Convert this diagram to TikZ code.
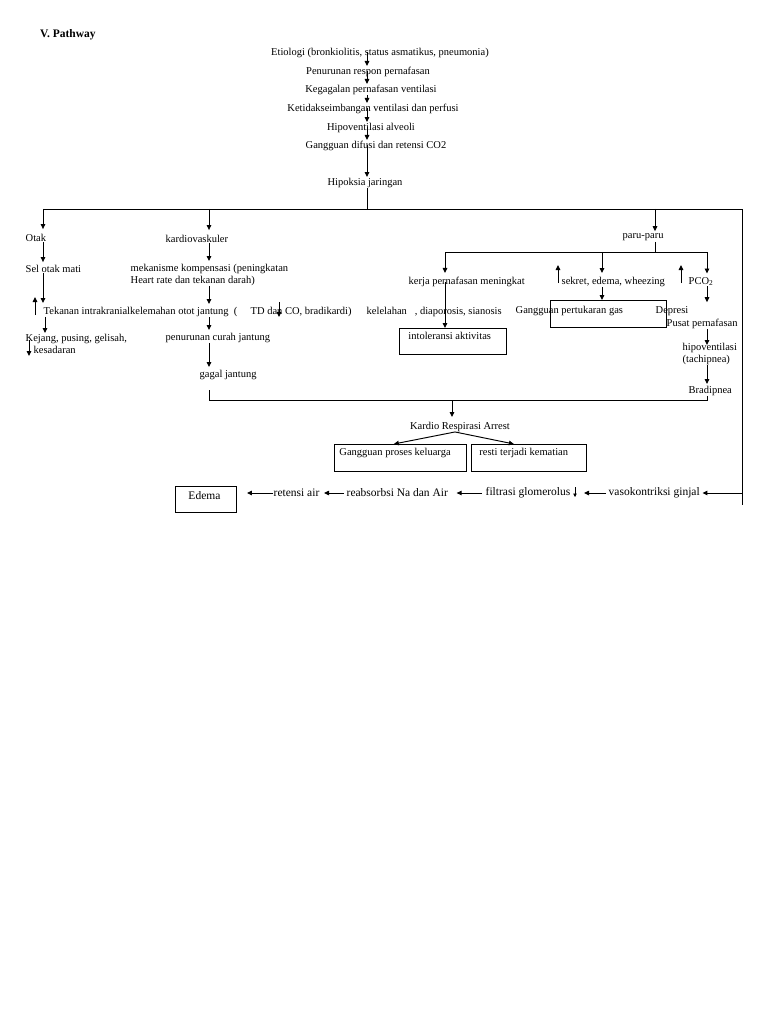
\documentclass[tikz,border=0pt]{standalone}
\usepackage{fontspec}
\setmainfont{Liberation Serif}
\usetikzlibrary{arrows.meta,calc}
\begin{document}
\begin{tikzpicture}[x=1pt,y=-1pt,
  arr/.style={-{Triangle[length=5pt,width=4.5pt]}, line width=0.95pt},
  ln/.style={line width=0.95pt},
  t/.style={font=\fontsize{10.5}{12}\selectfont, inner sep=0.5pt, yshift=-1.5pt},
  tl/.style={t, anchor=west},
  tb/.style={font=\fontsize{11.5}{13}\selectfont, inner sep=0.5pt, anchor=west, yshift=-1pt},
  box/.style={draw, line width=0.95pt, anchor=north west, align=flush left, inner ysep=2pt, text height=9.5pt, font=\fontsize{10.5}{12}\selectfont},
]
\fill[white] (0,0) rectangle (768,1024);
\useasboundingbox (0,0) rectangle (768,1024);

\node[font=\bfseries\fontsize{11.5}{13}\selectfont, anchor=west, inner sep=0, yshift=-1.5pt] (title) at (40,33) {V. Pathway};

% top chain
\node[t] (etio) at (380,51) {Etiologi (bronkiolitis, status asmatikus, pneumonia)};
\node[t] (pen) at (368,70) {Penurunan respon pernafasan};
\node[t] (keg) at (371,88) {Kegagalan pernafasan ventilasi};
\node[t] (ketid) at (373,107) {Ketidakseimbangan ventilasi dan perfusi};
\node[t] (hipov) at (371,126) {Hipoventilasi alveoli};
\node[t] (gang) at (376,144) {Gangguan difusi dan retensi CO2};
\node[t] (hipok) at (365,181) {Hipoksia jaringan};

\coordinate (cx) at (367,0);
\draw[arr] (etio -| cx) -- (pen.north -| cx);
\draw[arr] (pen -| cx) -- (keg.north -| cx);
\draw[arr] (keg.south -| cx) -- (ketid.north -| cx);
\draw[arr] (ketid -| cx) -- (hipov.north -| cx);
\draw[arr] (hipov -| cx) -- (gang.north -| cx);
\draw[arr] (gang -| cx) -- (hipok.north -| cx);

\coordinate (jtop) at (367,209);
\coordinate (jl) at (43,209);
\coordinate (jk) at (209,209);
\coordinate (jp) at (655,209);
\coordinate (jr) at (742,209);
\coordinate (rbot) at (742,505);
\draw[ln] (hipok.south -| jtop) -- (jtop);
\draw[ln] (jl) -- (jr) -- (rbot);

% left column
\node[tl] (otak) at (25,236) {Otak};
\node[tl] (sel) at (25,267) {Sel otak mati};
\node[tl] (tek) at (43,310) {Tekanan intrakranialkelemahan otot jantung \ (};
\node[tl] (td) at (250,310) {TD dan CO, bradikardi)};
\node[tl] (kel) at (366,310) {kelelahan \ \ , diaporosis, sianosis};
\node[tl] (kej) at (25,337) {Kejang, pusing, gelisah,};
\node[tl] (kes) at (33,348) {kesadaran};

\coordinate (xl) at (43,0);
\draw[arr, shorten >=4pt] (jl) -- (otak.north -| jl);
\draw[arr, shorten >=2pt] (otak.south -| xl) -- (sel.north -| xl);
\draw[arr, shorten >=3pt] (sel.south -| xl) -- (tek.north -| xl);
\draw[arr] ([xshift=2pt]tek.south west) -- ([xshift=2pt]kej.north -| tek.west);
\coordinate (u1a) at (35,315);
\coordinate (u1b) at (35,297);
\draw[arr] (u1a) -- (u1b);
\coordinate (d1a) at (29,340);
\coordinate (d1b) at (29,356);
\draw[arr] (d1a) -- (d1b);

% kardiovaskuler column
\node[tl] (kardio) at (165,237) {kardiovaskuler};
\node[tl, align=left] (mek) at (130,273) {mekanisme kompensasi (peningkatan\\Heart rate dan tekanan darah)};
\node[tl] (penc) at (165,336) {penurunan curah jantung};
\node[tl] (gagal) at (199,373) {gagal jantung};
\coordinate (xk) at (209,0);
\draw[arr, shorten >=4pt] (jk) -- (kardio.north -| jk);
\draw[arr, shorten >=2pt] (kardio.south -| xk) -- (mek.north -| xk);
\draw[arr, shorten >=2pt] (mek.south -| xk) -- (tek.north -| xk);
\draw[arr, shorten >=2pt] (tek.south -| xk) -- (penc.north -| xk);
\draw[arr, shorten >=2pt] (penc.south -| xk) -- (gagal.north -| xk);
\coordinate (td1) at (279,302);
\coordinate (td2) at (279,317);
\draw[arr] (td1) -- (td2);

% paru-paru column
\node[tl] (paru) at (622,236) {paru-paru};
\node[tl] (kerja) at (408,280) {kerja pernafasan meningkat};
\node[tl] (sek) at (561,280) {sekret, edema, wheezing};
\node[tl] (pco) at (688,280) {PCO\textsubscript{2}};
\node[tl] (dep) at (655,310) {Depresi};
\node[tl] (pusat) at (666,322) {Pusat pernafasan};
\node[tl, align=left] (hipo) at (682,352) {hipoventilasi\\(tachipnea)};
\node[tl] (bradi) at (688,389) {Bradipnea};
\node[box, text depth=12.5pt, inner xsep=9pt, text width=89pt, minimum width=107pt] (into) at (399,328) {intoleransi aktivitas};
\node[draw, ln, anchor=north west, minimum width=116pt, minimum height=27pt, inner sep=0] (gpgbox) at (550,300) {};
\node[tl] (gpg) at (515,309) {Gangguan pertukaran gas};

\coordinate (ja) at (445,252);
\coordinate (jb) at (602,252);
\coordinate (jc) at (707,252);
\coordinate (jpp) at (655,252);
\draw[arr, shorten >=2pt] (jp) -- (paru.north -| jp);
\draw[ln] (paru.south -| jp) -- (jpp);
\draw[ln] (ja) -- (jc);
\draw[arr, shorten >=3pt] (ja) -- (kerja.north -| ja);
\draw[arr, shorten >=3pt] (jb) -- (sek.north -| jb);
\draw[arr, shorten >=3pt] (jc) -- (pco.north -| jc);
\draw[arr] (kerja -| ja) -- (into.north -| ja);
\draw[arr] (sek.south -| jb) -- (gpgbox.north -| jb);
\coordinate (u2a) at (558,283);
\coordinate (u2b) at (558,265);
\draw[arr] (u2a) -- (u2b);
\coordinate (u3a) at (681,283);
\coordinate (u3b) at (681,265);
\draw[arr] (u3a) -- (u3b);
\draw[arr, shorten >=4pt] (pco.south -| jc) -- (dep.north -| jc);
\draw[arr] (pusat.south -| jc) -- ([yshift=-3pt]hipo.north -| jc);
\draw[arr, shorten >=1pt] (hipo.south -| jc) -- (bradi.north -| jc);

% merge to Kardio Respirasi Arrest
\coordinate (hb) at (707,400);
\coordinate (hl) at (209,400);
\coordinate (jk2) at (452,400);
\draw[ln] (bradi.south -| jc) -- (hb) -- (hl) -- ([yshift=-10pt]gagal.south -| xk);
\node[t] (kra) at (460,425) {Kardio Respirasi Arrest};
\draw[arr, shorten >=4pt] (jk2) -- (kra.north -| jk2);
\node[box, text depth=13.5pt, inner xsep=5pt, text width=122pt, minimum width=132pt] (gpk) at (334,444) {Gangguan proses keluarga};
\node[box, text depth=13.5pt, inner xsep=8pt, text width=99pt, minimum width=115pt] (resti) at (471,444) {resti terjadi kematian};
\draw[arr] ([xshift=-5pt]kra.south) -- ($(gpk.north west)!0.45!(gpk.north east)$);
\draw[arr] ([xshift=-5pt]kra.south) -- ($(resti.north west)!0.37!(resti.north east)$);

% bottom row
\node[draw, ln, anchor=north west, align=flush left, inner ysep=2pt, inner xsep=13pt, text width=35pt, text height=11pt, text depth=11pt, minimum width=61pt, font=\fontsize{11.5}{13}\selectfont] (edema) at (175,486) {Edema};
\node[tb] (ret) at (273,492) {retensi air};
\node[tb] (reab) at (346,492) {reabsorbsi Na dan Air};
\node[tb] (filt) at (485,492) {filtrasi glomerolus};
\node[tb] (vaso) at (608,492) {vasokontriksi ginjal};
\draw[arr, shorten >=2pt] (vaso.east -| jr) -- (vaso.east);
\draw[arr, shorten >=13pt, shorten <=2pt] (vaso.west) -- (vaso.west -| filt.east);
\coordinate (fa1) at (575,487);
\coordinate (fa2) at (575,497);
\draw[-{Triangle[length=3.5pt,width=3.5pt]}, line width=0.6pt] (fa1) -- (fa2);
\draw[arr, shorten >=8pt, shorten <=3pt] (filt.west) -- (filt.west -| reab.east);
\draw[arr, shorten >=4pt, shorten <=2pt] (reab.west) -- (reab.west -| ret.east);
\draw[arr, shorten >=10pt] (ret.west) -- (ret.west -| edema.east);
\end{tikzpicture}
\end{document}
